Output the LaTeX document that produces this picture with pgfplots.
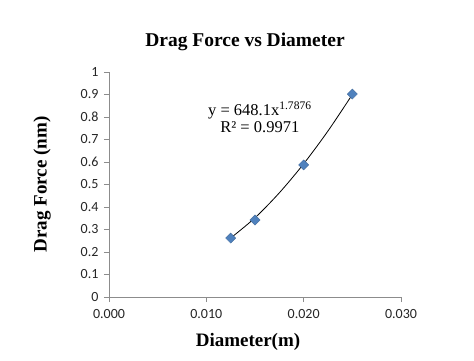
\documentclass[border=0pt]{standalone}
\usepackage{fontspec}
\setmainfont{Carlito}
\newfontfamily\timesfont{Liberation Serif}
\usepackage{pgfplots}
\pgfplotsset{compat=1.18}
\definecolor{ptblue}{HTML}{4F81BD}
\definecolor{axgray}{HTML}{8C8C8C}
\begin{document}
\begin{tikzpicture}
\begin{axis}[
  at={(0,0)}, anchor=south west,
  scale only axis, width=292pt, height=225pt,
  xmin=0, xmax=0.03, ymin=0, ymax=1,
  axis x line*=bottom, axis y line*=left,
  axis line style={axgray, line width=0.8pt},
  xtick={0,0.01,0.02,0.03},
  ytick={0,0.1,...,1},
  tick align=outside,
  major tick length=5pt,
  tick style={axgray, line width=0.8pt},
  x tick label style={/pgf/number format/.cd, fixed, fixed zerofill, precision=3, /tikz/.cd, yshift=-4pt},
  y tick label style={/pgf/number format/.cd, fixed, precision=1, /tikz/.cd, xshift=-2pt},
  scaled x ticks=false,
  ticklabel style={font=\fontsize{14}{16}\selectfont, black!85},
  /pgf/number format/assume math mode=true,
  title={\timesfont\bfseries Drag Force vs Diameter},
  title style={font=\fontsize{19.5}{22}\selectfont, at={(axis description cs:0.5,1)}, anchor=center, yshift=24pt, xshift=-10pt},
  xlabel={\timesfont\bfseries Diameter(m)},
  xlabel style={font=\fontsize{19}{22}\selectfont, at={(axis description cs:0.5,0)}, anchor=center, yshift=-45pt, xshift=-7pt},
  ylabel={\timesfont\bfseries Drag Force (nm)},
  ylabel style={font=\fontsize{19}{22}\selectfont, at={(axis description cs:-0.229,0.5)}, anchor=center},
  clip=false,
]
\addplot[black, line width=0.8pt, smooth] coordinates {
  (0.0125,0.262) (0.015,0.352) (0.0175,0.463) (0.02,0.592) (0.0225,0.738) (0.025,0.900)
};
\addplot[only marks, mark=square*, mark size=3.6pt,
  mark options={rotate=45, fill=ptblue, draw=ptblue!80!black, line width=0.3pt}] coordinates {
  (0.0125,0.262) (0.015,0.342) (0.020,0.587) (0.025,0.902)
};
\node[align=center, font=\timesfont\fontsize{16.5}{18}\selectfont, inner sep=0pt]
  at (axis cs:0.0155,0.80) {y = 648.1x\textsuperscript{1.7876}\\[-1pt]R² = 0.9971};
\path[use as bounding box] (rel axis cs:0,0) ++(-109pt,-64pt) rectangle ++(474pt,361pt);
\end{axis}
\end{tikzpicture}
\end{document}
